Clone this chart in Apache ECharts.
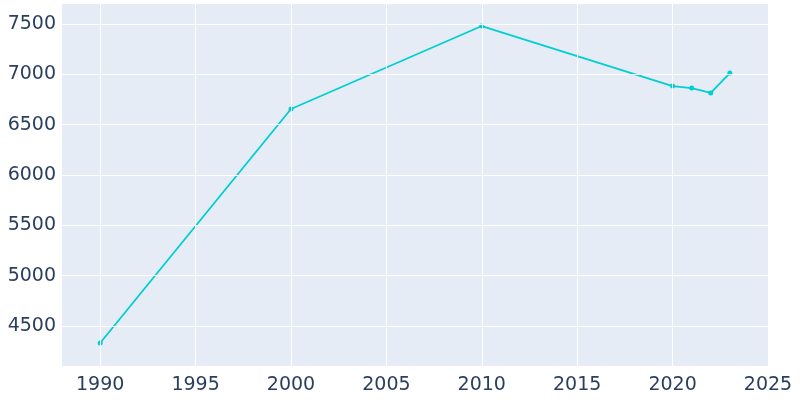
<!DOCTYPE html>
<html><head><meta charset="utf-8">
<script src="https://cdn.jsdelivr.net/npm/echarts@6/dist/echarts.min.js"></script>
<style>html,body{margin:0;padding:0;background:#fff}#c{width:800px;height:400px}</style>
</head><body><div id="c"></div>
<script>
const years = [1990, 2000, 2010, 2020, 2021, 2022, 2023];
const population = [4331, 6656, 7480, 6884, 6864, 6815, 7013];
const xTicks = [1990,1995,2000,2005,2010,2015,2020,2025];
const yTicks = [4500,5000,5500,6000,6500,7000,7500];
const chart = echarts.init(document.getElementById('c'));
chart.setOption({
  animation: false,
  grid: {left: 62, right: 32, top: 4, bottom: 34, backgroundColor: '#E5ECF6', show: true, borderWidth: 0},
  xAxis: {type: 'value', min: 1988, max: 2025,
    axisLine: {show: false}, axisTick: {show: false}, splitLine: {show: false},
    axisLabel: {color: '#2a3f5f', fontSize: 19, fontFamily: 'DejaVu Sans', margin: 10,
      formatter: v => String(v), customValues: xTicks}},
  yAxis: {type: 'value', min: 4103, max: 7699,
    axisLine: {show: false}, axisTick: {show: false}, splitLine: {show: false},
    axisLabel: {color: '#2a3f5f', fontSize: 19, fontFamily: 'DejaVu Sans', margin: 6,
      formatter: v => String(v), customValues: yTicks}},
  series: [
    {type: 'line', data: [], z: 1,
      markLine: {silent: true, symbol: 'none', label: {show: false}, animation: false,
        lineStyle: {color: '#fff', type: 'solid', width: 1},
        data: yTicks.map(v => ({yAxis: v})).concat(xTicks.map(v => ({xAxis: v})))}},
    {type: 'line', data: years.map((y, i) => [y, population[i]]), z: 3,
      lineStyle: {color: '#00CED1', width: 1.8}, itemStyle: {color: '#00CED1'},
      symbol: 'circle', symbolSize: 5}]
});
</script></body></html>
